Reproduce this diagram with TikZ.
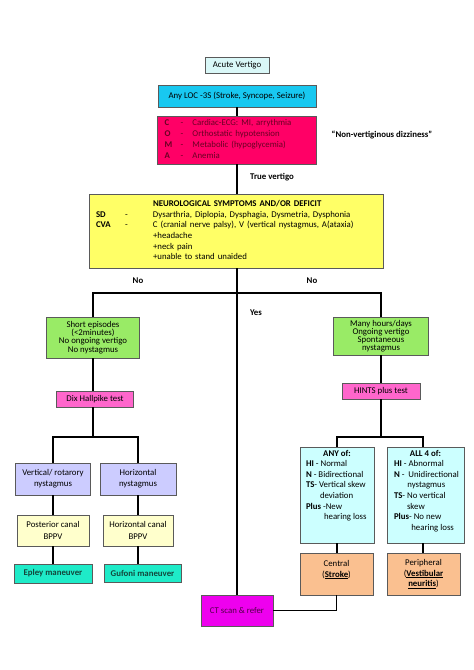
\documentclass[tikz,border=0pt]{standalone}
\usepackage{fontspec}
\setmainfont{Carlito}
\usetikzlibrary{calc}
\definecolor{avc}{RGB}{218,248,248}
\definecolor{locc}{RGB}{24,200,240}
\definecolor{comac}{RGB}{255,0,102}
\definecolor{comatext}{RGB}{105,0,35}
\definecolor{neuroc}{RGB}{255,255,102}
\definecolor{greenc}{RGB}{153,235,102}
\definecolor{pinkc}{RGB}{255,102,204}
\definecolor{lavc}{RGB}{204,204,255}
\definecolor{lyc}{RGB}{255,255,204}
\definecolor{turqc}{RGB}{30,235,200}
\definecolor{turqtext}{RGB}{20,70,60}
\definecolor{cyanc}{RGB}{204,255,255}
\definecolor{peachc}{RGB}{250,192,144}
\definecolor{magc}{RGB}{238,0,238}
\definecolor{magtext}{RGB}{80,0,70}
\definecolor{bordc}{RGB}{90,90,90}
\begin{document}
\begin{tikzpicture}[x=1pt,y=-1pt,
  box/.style={draw=bordc, line width=0.7pt, inner sep=0pt, align=center,
    font=\fontsize{8.8}{10.6}\selectfont},
  greenbox/.style={box, fill=greenc, font=\fontsize{8.8}{8.2}\selectfont},
  conn/.style={line width=1.3pt, black},
  lbl/.style={font=\bfseries\fontsize{8.8}{10.6}\selectfont}]
\useasboundingbox (0,0) rectangle (474,670);

% top chain
\node[box, fill=avc, minimum width=64pt, minimum height=16pt] (av) at (237,65) {Acute Vertigo};
\node[box, fill=locc, minimum width=158pt, minimum height=22pt] (loc) at (237,96) {Any LOC -3S (Stroke, Syncope, Seizure)};
\node[box, fill=comac, text=comatext, text width=145pt, inner xsep=7pt, minimum height=48pt, align=left,
  font=\fontsize{8.8}{10.9}\selectfont] (coma) at (237,140)
  {\begin{tabular}{@{}p{16pt}@{}p{12pt}@{}l@{}}
   \textbf{C} & - & Cardiac-ECG: MI, arrythmia\\
   \textbf{O} & - & Orthostatic hypotension\\
   \textbf{M} & - & Metabolic (hypoglycemia)\\
   \textbf{A} & - & Anemia
   \end{tabular}};
\node[lbl] (nvd) at (382,135) {“Non-vertiginous dizziness”};
\node[lbl] (tv) at (272,177) {True vertigo};

\node[box, fill=neuroc, text width=280pt, inner xsep=7pt, minimum height=74pt, align=left,
  font=\fontsize{8.8}{10.6}\selectfont] (neuro) at (236,231)
  {\begin{tabular}{@{}p{29pt}@{}p{28pt}@{}l@{}}
   & & \textbf{NEUROLOGICAL SYMPTOMS AND/OR DEFICIT}\\
   \textbf{SD} & - & Dysarthria, Diplopia, Dysphagia, Dysmetria, Dysphonia\\
   \textbf{CVA} & - & C (cranial nerve palsy), V (vertical nystagmus, A(ataxia)\\
   & & +headache\\
   & & +neck pain\\
   & & +unable to stand unaided
   \end{tabular}};

\node[lbl] (no1) at (138,281) {No};
\node[lbl] (no2) at (312,281) {No};
\node[lbl] (yes) at (256,313) {Yes};

% left branch
\node[greenbox, minimum width=93pt, minimum height=41pt] (shortep) at (93,337.5)
  {Short episodes\\(<2minutes)\\No ongoing vertigo\\No nystagmus};
\node[box, fill=pinkc, minimum width=77pt, minimum height=16pt] (dix) at (95,399) {Dix Hallpike test};
\node[box, fill=lavc, minimum width=75pt, minimum height=32pt, font=\fontsize{8.8}{11}\selectfont] (vert) at (53,479) {Vertical/ rotarory\\nystagmus};
\node[box, fill=lavc, minimum width=76pt, minimum height=32pt, font=\fontsize{8.8}{11}\selectfont] (horiz) at (138,479) {Horizontal\\nystagmus};
\node[box, fill=lyc, minimum width=72pt, minimum height=31pt, font=\fontsize{8.8}{11.4}\selectfont] (post) at (53,530.5) {Posterior canal\\BPPV};
\node[box, fill=lyc, minimum width=70pt, minimum height=31pt, font=\fontsize{8.8}{11.4}\selectfont] (hcanal) at (138,530.5) {Horizontal canal\\BPPV};
\node[box, fill=turqc, text=turqtext, minimum width=78pt, minimum height=19pt, font=\bfseries\fontsize{8.8}{10.6}\selectfont] (epley) at (53,573.5) {Epley maneuver};
\node[box, fill=turqc, text=turqtext, minimum width=77pt, minimum height=18pt, font=\bfseries\fontsize{8.8}{10.6}\selectfont] (gufoni) at (142.5,573) {Gufoni maneuver};

% right branch
\node[greenbox, minimum width=95pt, minimum height=38pt] (many) at (381,336)
  {Many hours/days\\Ongoing vertigo\\Spontaneous\\nystagmus};
\node[box, fill=pinkc, minimum width=78pt, minimum height=16pt] (hints) at (381,391) {HINTS plus test};
\node[box, fill=cyanc, inner xsep=6pt, inner ysep=0pt] (any) at (337,495)
  {\parbox[c][96pt][t]{62pt}{\vspace*{3pt}\centering\textbf{ANY of:}\par\raggedright
   \mbox{\textbf{HI} - Normal}\\
   \mbox{\textbf{N} - Bidirectional}\\
   \mbox{\textbf{TS}- Vertical skew}\\
   \mbox{\hspace*{14pt}deviation}\\
   \mbox{\textbf{Plus} -New}\\
   \mbox{\hspace*{18pt}hearing loss}}};
\node[box, fill=cyanc, inner xsep=7pt, inner ysep=0pt] (all) at (425.5,495)
  {\parbox[c][96pt][t]{63pt}{\vspace*{3pt}\centering\textbf{ALL 4 of:}\par\raggedright
   \mbox{\textbf{HI} - Abnormal}\\
   \mbox{\textbf{N} -~ Unidirectional}\\
   \mbox{\hspace*{13.3pt}nystagmus}\\
   \mbox{\textbf{TS}- No vertical}\\
   \mbox{\hspace*{13pt}skew}\\
   \mbox{\textbf{Plus}- No new}\\
   \mbox{\hspace*{17.3pt}hearing loss}}};
\node[box, fill=peachc, minimum width=73pt, minimum height=42pt] (central) at (336.5,574)
  {Central\\(\underline{\textbf{Stroke}})\\\mbox{}};
\node[box, fill=peachc, minimum width=73pt, minimum height=42pt] (periph) at (423.5,574)
  {Peripheral\\(\underline{\textbf{Vestibular}}\\\underline{\textbf{neuritis}})};
\node[box, fill=magc, text=magtext, minimum width=72pt, minimum height=31pt] (ct) at (237,610.5) {CT scan \& refer};

% connectors
\coordinate (split) at (237,293);
\coordinate (split2) at (93,437);
\coordinate (split3) at (381,437);
\draw[conn] (loc.south) -- (coma.north);
\draw[conn] (coma.south) -- (coma.south |- neuro.north);
\draw[conn] (neuro.south -| ct.north) -- (ct.north);
\draw[conn] (shortep.north) |- (split) -| (many.north);
\draw[conn] (shortep.south) -- (shortep.south |- dix.north);
\draw[conn] (dix.south -| shortep.south) -- (split2);
\draw[conn] (vert.north) |- (split2) -| (horiz.north);
\draw[conn] (vert.south) -- (post.north);
\draw[conn] (horiz.south) -- (hcanal.north);
\draw[conn] (post.south) -- (epley.north);
\draw[conn] (hcanal.south) -- (hcanal.south |- gufoni.north);
\draw[conn] (many.south) -- (hints.north);
\draw[conn] (hints.south) -- (split3);
\draw[conn] (any.north) |- (split3) -| ([xshift=-2.5pt]all.north);
\draw[conn] (any.south) -- (any.south |- central.north);
\draw[conn] ([xshift=-2.5pt]all.south) -- ([xshift=-2.5pt]all.south |- periph.north);
\draw[conn] (central.south) |- (ct.east);
\end{tikzpicture}
\end{document}
